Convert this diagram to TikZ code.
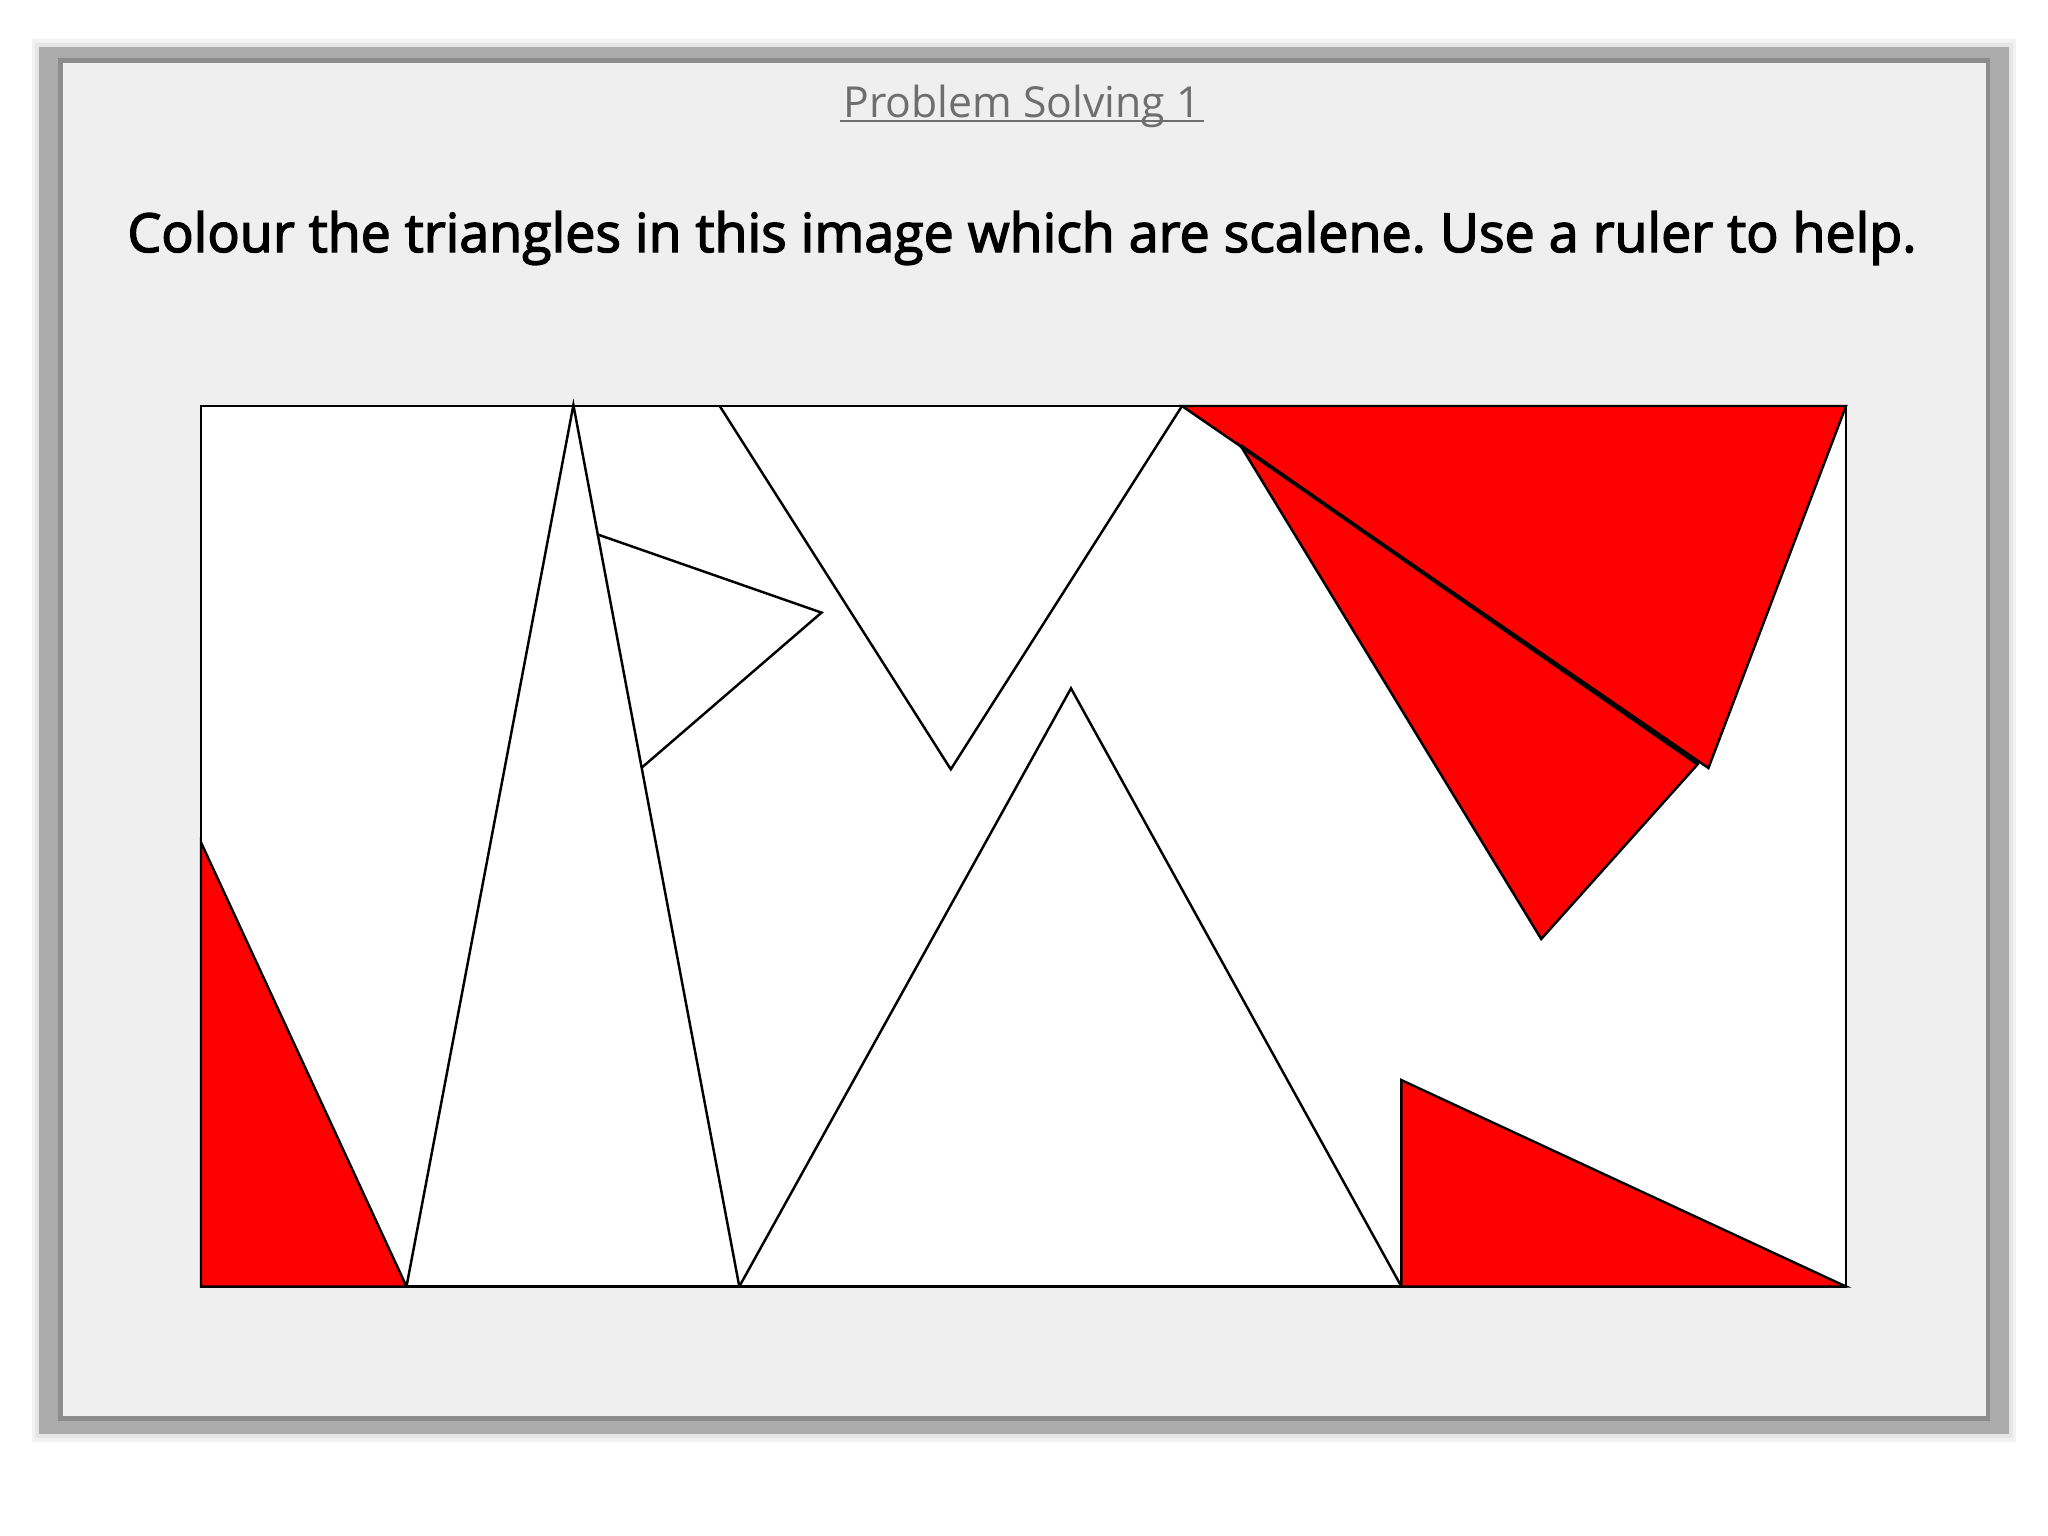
\documentclass[tikz,border=0pt]{standalone}
\usepackage{fontspec}
\setmainfont{Open Sans}
\newfontfamily\instrfont{Open Sans}[FakeBold=2.6]
\frenchspacing
\definecolor{frameout}{HTML}{ABABAB}
\definecolor{frameline}{HTML}{8C8C8C}
\definecolor{panel}{HTML}{EFEFEF}
\definecolor{titlegray}{HTML}{6E6E6E}
\definecolor{scared}{HTML}{FF0000}
\begin{document}
\begin{tikzpicture}[x=0.01cm,y=-0.01cm,
  shapeline/.style={draw=black,line width=0.7pt,line join=miter},
  redtri/.style={shapeline,fill=scared},
  txt/.style={inner sep=0pt,anchor=base}]
\path[use as bounding box,fill=white] (0,0) rectangle (2048,1536);
% frame with soft shadow
\fill[black!5] (32,39) rectangle (2016,1442);
\fill[black!10] (35,43) rectangle (2013,1438);
\fill[frameout] (39,47) rectangle (2009,1434);
\fill[frameline] (58,58) rectangle (1990,1421);
\fill[panel] (62.5,62.5) rectangle (1985.5,1416);
% texts
\node[txt,text=titlegray] (title) at (1022,117)
  {\resizebox{3.57cm}{!}{Problem Solving 1}};
\draw[titlegray,line width=0.8pt] ([xshift=-0.03cm,yshift=-1.15pt]title.base west)
  -- ([xshift=0.03cm,yshift=-1.15pt]title.base east);
\node[txt] (instr) at (1022,252)
  {\resizebox{17.88cm}{!}{\instrfont Colour the triangles in this image which are scalene. Use a ruler to help.}};
% vertices
\coordinate (rtl) at (201,406);
\coordinate (rbr) at (1846,1286.5);
\coordinate (lr1) at (201,842.4);
\coordinate (lr2) at (201,1286.5);
\coordinate (b1) at (406.5,1286.5);
\coordinate (tap) at (573.4,405);
\coordinate (b2) at (739.3,1286.5);
\coordinate (s1) at (596.9,534.2);
\coordinate (s2) at (821.5,612.6);
\coordinate (s3) at (641.3,768);
\coordinate (v1) at (719.7,406);
\coordinate (v2) at (950.8,769.3);
\coordinate (v3) at (1182,406);
\coordinate (bap) at (1071,688.3);
\coordinate (b3) at (1401.4,1286.5);
\coordinate (rt2) at (1846,406);
\coordinate (rt3) at (1708.4,768);
\coordinate (rs1) at (1240.8,446);
\coordinate (rs2) at (1697.9,764);
\coordinate (rs3) at (1541.2,939);
\coordinate (rb1) at (1401.4,1080.1);
\coordinate (rb3) at (1846,1286.5);
% picture
\draw[shapeline,fill=white] (rtl) rectangle (rbr);
\draw[redtri] (lr1) -- (b1) -- (lr2) -- cycle;
\draw[shapeline] (b1) -- (tap) -- (b2);
\draw[shapeline] (s1) -- (s2) -- (s3);
\draw[shapeline] (v1) -- (v2) -- (v3);
\draw[shapeline] (b2) -- (bap) -- (b3);
\draw[redtri] (v3) -- (rt2) -- (rt3) -- cycle;
\draw[redtri] (rs1) -- (rs2) -- (rs3) -- cycle;
\draw[shapeline,line width=1.1pt] (rs1) -- (rs2);
\draw[redtri] (rb1) -- (b3) -- (rb3) -- cycle;
\end{tikzpicture}
\end{document}
